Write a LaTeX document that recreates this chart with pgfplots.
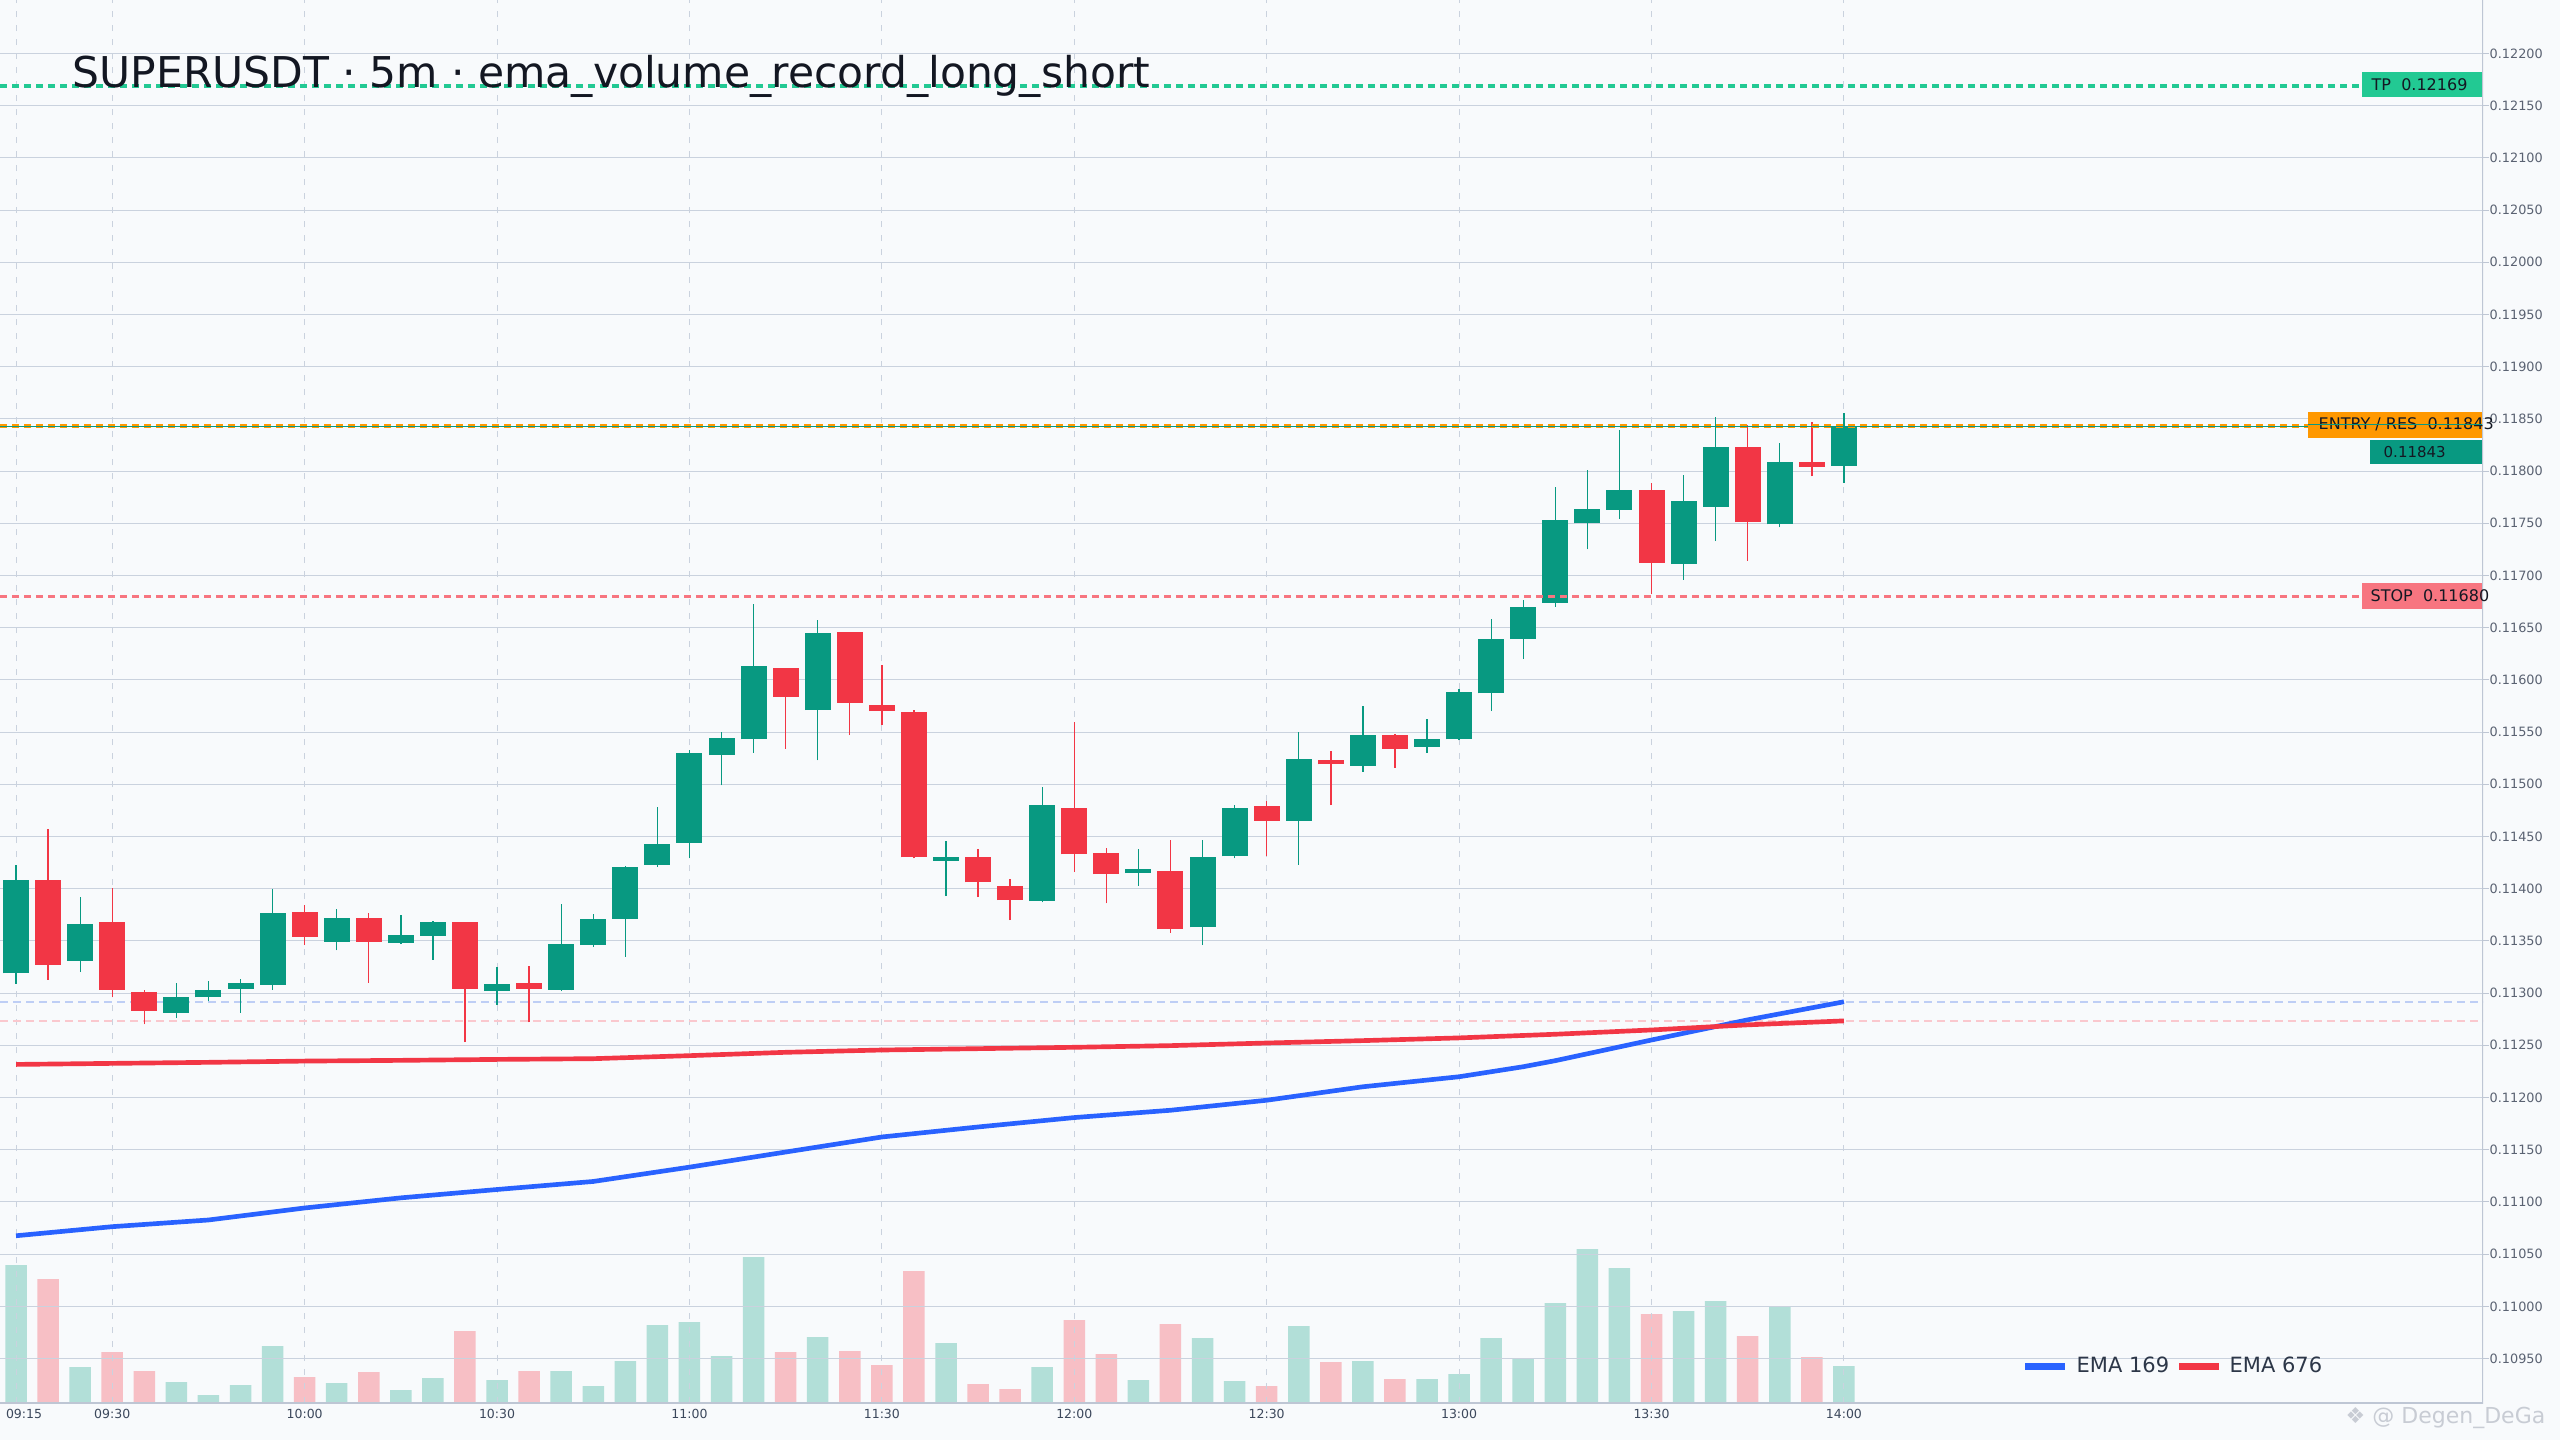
\documentclass[border=0pt]{standalone}
\usepackage{pgfplots}
\pgfplotsset{compat=1.18}
\usepackage{pgfplotstable}
\usepackage{fontspec}
\setmainfont{DejaVu Sans}
\newcommand\fs[1]{\fontsize{#1}{#1}\selectfont}
\definecolor{bg}{RGB}{248,250,252}
\definecolor{gridc}{RGB}{202,210,222}
\definecolor{axisc}{RGB}{190,198,212}
\definecolor{cg}{RGB}{8,153,129}
\definecolor{cr}{RGB}{242,54,69}
\definecolor{vg}{RGB}{178,223,216}
\definecolor{vr}{RGB}{247,191,197}
\definecolor{emab}{RGB}{41,98,255}
\definecolor{emar}{RGB}{242,54,69}
\definecolor{tpc}{RGB}{34,201,147}
\definecolor{entc}{RGB}{255,152,0}
\definecolor{stopc}{RGB}{247,117,128}
\definecolor{ticktext}{RGB}{90,98,114}
\definecolor{xtext}{RGB}{60,72,92}
\definecolor{titlec}{RGB}{19,23,34}
\definecolor{boxtext}{RGB}{20,24,35}
\definecolor{legtext}{RGB}{45,55,72}
\definecolor{wm}{RGB}{200,204,212}
\definecolor{lightb}{RGB}{190,206,245}
\definecolor{lightr}{RGB}{250,200,206}

\pgfplotstableread{
i O H L C
0 0.11319 0.11423 0.11309 0.11408
2 0.11331 0.11392 0.11320 0.11366
5 0.11281 0.11310 0.11276 0.11296
6 0.11296 0.11312 0.11292 0.11303
7 0.11304 0.11314 0.11281 0.11310
8 0.11308 0.11400 0.11303 0.11377
10 0.11349 0.11381 0.11341 0.11372
12 0.11348 0.11375 0.11347 0.11356
13 0.11355 0.11369 0.11332 0.11368
15 0.11302 0.11325 0.11289 0.11309
17 0.11303 0.11385 0.11302 0.11347
18 0.11346 0.11376 0.11344 0.11371
19 0.11371 0.11422 0.11335 0.11421
20 0.11423 0.11478 0.11421 0.11443
21 0.11444 0.11533 0.11429 0.11530
22 0.11528 0.11550 0.11499 0.11544
23 0.11543 0.11673 0.11530 0.11613
25 0.11571 0.11657 0.11523 0.11645
29 0.11427 0.11446 0.11393 0.11430
32 0.11388 0.11497 0.11387 0.11480
35 0.11415 0.11438 0.11403 0.11419
37 0.11363 0.11447 0.11346 0.11430
38 0.11431 0.11480 0.11429 0.11477
40 0.11465 0.11550 0.11423 0.11524
42 0.11518 0.11575 0.11512 0.11547
44 0.11536 0.11563 0.11530 0.11543
45 0.11543 0.11591 0.11542 0.11588
46 0.11587 0.11658 0.11570 0.11639
47 0.11639 0.11677 0.11620 0.11670
48 0.11674 0.11785 0.11670 0.11753
49 0.11750 0.11801 0.11725 0.11764
50 0.11763 0.11839 0.11754 0.11782
52 0.11711 0.11796 0.11696 0.11771
53 0.11766 0.11852 0.11733 0.11823
55 0.11749 0.11827 0.11746 0.11809
57 0.11805 0.11856 0.11789 0.11843
}\greencandles

\pgfplotstableread{
i O H L C
1 0.11408 0.11457 0.11313 0.11327
3 0.11368 0.11401 0.11296 0.11303
4 0.11301 0.11303 0.11270 0.11283
9 0.11378 0.11384 0.11346 0.11354
11 0.11372 0.11377 0.11310 0.11349
14 0.11368 0.11368 0.11253 0.11304
16 0.11310 0.11326 0.11272 0.11304
24 0.11611 0.11611 0.11534 0.11584
26 0.11646 0.11646 0.11547 0.11578
27 0.11576 0.11614 0.11557 0.11570
28 0.11569 0.11571 0.11429 0.11430
30 0.11430 0.11438 0.11392 0.11406
31 0.11403 0.11409 0.11370 0.11389
33 0.11477 0.11560 0.11416 0.11433
34 0.11434 0.11439 0.11386 0.11414
36 0.11417 0.11447 0.11358 0.11361
39 0.11479 0.11484 0.11431 0.11465
41 0.11523 0.11532 0.11480 0.11519
43 0.11547 0.11548 0.11516 0.11534
51 0.11782 0.11789 0.11682 0.11712
54 0.11823 0.11844 0.11714 0.11751
56 0.11809 0.11847 0.11795 0.11804
}\redcandles

\pgfplotstableread{
i v
0 414
2 108
5 63
6 24
7 54
8 171
10 60
12 39
13 75
15 69
17 96
18 51
19 126
20 234
21 243
22 141
23 438
25 198
29 180
32 108
35 69
37 195
38 66
40 231
42 126
44 72
45 87
46 195
47 132
48 300
49 462
50 405
52 276
53 306
55 291
57 111
}\volgreen

\pgfplotstableread{
i v
1 372
3 153
4 96
9 78
11 93
14 216
16 96
24 153
26 156
27 114
28 396
30 57
31 42
33 249
34 147
36 237
39 51
41 123
43 72
51 267
54 201
56 138
}\volred

\pgfplotstableread{
i e
0 0.110676
3 0.110763
6 0.110827
9 0.110942
12 0.111039
15 0.111119
18 0.111196
21 0.111333
24 0.111478
27 0.111622
30 0.111718
33 0.111808
36 0.111878
39 0.111974
42 0.112103
45 0.112199
47 0.112295
48 0.112353
51 0.112551
54 0.112744
57 0.112917
}\emablue

\pgfplotstableread{
i e
0 0.112317
3 0.112327
6 0.112337
9 0.112349
12 0.112356
15 0.112365
18 0.112372
21 0.112401
24 0.112433
27 0.112455
30 0.112468
33 0.112481
36 0.112497
39 0.112522
42 0.112545
45 0.112571
48 0.112606
51 0.112647
54 0.112696
57 0.112734
}\emared

\pgfplotsset{
  candle/.style 2 args={forget plot, draw=none, mark=none,
    error bars/.cd, y dir=plus, y explicit, error mark=none,
    error bar style={draw=#1, line width=#2, solid}},
}

\begin{document}
\begin{tikzpicture}
\fill[bg] (0,0) rectangle (768pt,432pt);

% volume
\begin{axis}[at={(0pt,11.1pt)}, anchor=south west, scale only axis,
  width=744.9pt, height=420.9pt,
  xmin=-0.5, xmax=76.93, ymin=0, ymax=4209, hide axis]
\addplot[ybar, bar width=6.45pt, bar shift=0pt, fill=vg, draw=none] table[x=i, y=v] {\volgreen};
\addplot[ybar, bar width=6.45pt, bar shift=0pt, fill=vr, draw=none] table[x=i, y=v] {\volred};
\end{axis}

% price
\begin{axis}[at={(0pt,11.1pt)}, anchor=south west, scale only axis,
  width=744.9pt, height=420.9pt,
  xmin=-0.5, xmax=76.93, ymin=0.109074, ymax=0.122512,
  axis line style={draw=none},
  xtick={0,3,9,15,21,27,33,39,45,51,57},
  xticklabels={\hspace{4.8pt}09:15,09:30,10:00,10:30,11:00,11:30,12:00,12:30,13:00,13:30,14:00},
  xtick style={draw=none},
  xmajorgrids, x grid style={gridc, line width=0.3pt, dash pattern=on 1.8pt off 2.4pt},
  ytick={0.1095,0.1100,0.1105,0.1110,0.1115,0.1120,0.1125,0.1130,0.1135,0.1140,0.1145,0.1150,0.1155,0.1160,0.1165,0.1170,0.1175,0.1180,0.1185,0.1190,0.1195,0.1200,0.1205,0.1210,0.1215,0.1220},
  ymajorgrids, y grid style={gridc, line width=0.33pt},
  ytick pos=right, yticklabel pos=right,
  tick align=outside, major tick length=1.8pt,
  ytick style={axisc, line width=0.3pt},
  scaled y ticks=false,
  /pgf/number format/assume math mode=true,
  yticklabel={\pgfmathprintnumber[fixed,fixed zerofill,precision=5]{\tick}},
  yticklabel style={font=\fs{3.85}, text=ticktext, anchor=west, inner sep=0pt},
  xticklabel style={font=\fs{3.75}, text=xtext, anchor=north, inner sep=0pt},
]
% last-value guides
\addplot[lightb, line width=0.45pt, dash pattern=on 2.4pt off 1.5pt, forget plot] coordinates {(-0.5,0.112917) (76.93,0.112917)};
\addplot[lightr, line width=0.45pt, dash pattern=on 2.4pt off 1.5pt, forget plot] coordinates {(-0.5,0.112734) (76.93,0.112734)};
% EMAs
\addplot[emab, line width=1.4pt, line join=round, forget plot] table[x=i, y=e] {\emablue};
\addplot[emar, line width=1.4pt, line join=round, forget plot] table[x=i, y=e] {\emared};
% wicks
\addplot[candle={cg}{0.4pt}] table[x=i, y=L, y error plus expr=\thisrow{H}-\thisrow{L}] {\greencandles};
\addplot[candle={cr}{0.4pt}] table[x=i, y=L, y error plus expr=\thisrow{H}-\thisrow{L}] {\redcandles};
% bodies
\addplot[candle={cg}{7.8pt}] table[x=i, y=O, y error plus expr=\thisrow{C}-\thisrow{O}] {\greencandles};
\addplot[candle={cr}{7.8pt}] table[x=i, y=C, y error plus expr=\thisrow{O}-\thisrow{C}] {\redcandles};
% levels
\addplot[tpc, line width=1.05pt, dash pattern=on 1.95pt off 1.65pt, forget plot] coordinates {(-0.5,0.12169) (76.93,0.12169)};
\addplot[entc, line width=1.05pt, dash pattern=on 1.95pt off 1.65pt, forget plot] coordinates {(-0.5,0.11843) (76.93,0.11843)};
\addplot[cg, line width=0.3pt, forget plot] coordinates {(-0.5,0.11843) (76.93,0.11843)};
\addplot[stopc, line width=1.05pt, dash pattern=on 1.95pt off 1.65pt, forget plot] coordinates {(-0.5,0.11680) (76.93,0.11680)};
\draw[axisc, line width=0.4pt] (rel axis cs:0,0) -- (rel axis cs:1,0) -- (rel axis cs:1,1);
\end{axis}

% level tags
\fill[tpc] (708.6pt,402.9pt) rectangle (744.6pt,410.4pt);
\node[anchor=west, inner sep=0pt, text=boxtext, font=\fs{4.8}] at (711.3pt,406.65pt) {TP\ \ 0.12169};
\fill[entc] (692.4pt,300.75pt) rectangle (744.6pt,308.4pt);
\node[anchor=west, inner sep=0pt, text=boxtext, font=\fs{4.8}] at (695.4pt,304.6pt) {ENTRY / RES\ \ 0.11843};
\draw[cg, line width=0.3pt] (692.4pt,304.6pt) -- (744.6pt,304.6pt);
\fill[cg] (711pt,292.8pt) rectangle (744.6pt,300pt);
\node[anchor=west, inner sep=0pt, text=boxtext, font=\fs{4.5}] at (714.9pt,296.4pt) {0.11843};
\fill[stopc] (708.6pt,249.3pt) rectangle (744.6pt,257.1pt);
\node[anchor=west, inner sep=0pt, text=boxtext, font=\fs{4.8}] at (711pt,253.2pt) {STOP\ \ 0.11680};

% title
\node[anchor=base west, inner sep=0pt, text=titlec, font=\fs{12.73}] at (21.6pt,405.6pt) {SUPERUSDT · 5m · ema\_volume\_record\_long\_short};

% legend
\draw[emab, line width=2.1pt] (607.5pt,22.2pt) -- (619.5pt,22.2pt);
\node[anchor=base west, inner sep=0pt, text=legtext, font=\fs{6.3}] at (622.8pt,20.2pt) {EMA 169};
\draw[emar, line width=2.1pt] (653.7pt,22.2pt) -- (665.7pt,22.2pt);
\node[anchor=base west, inner sep=0pt, text=legtext, font=\fs{6.3}] at (668.7pt,20.2pt) {EMA 676};

% watermark
\node[anchor=base west, inner sep=0pt, text=wm, font=\fs{6.6}] at (703.5pt,5.1pt) {❖ @ Degen\_DeGa};

\pgfresetboundingbox
\useasboundingbox (0,0) rectangle (768pt,432pt);
\end{tikzpicture}
\end{document}
